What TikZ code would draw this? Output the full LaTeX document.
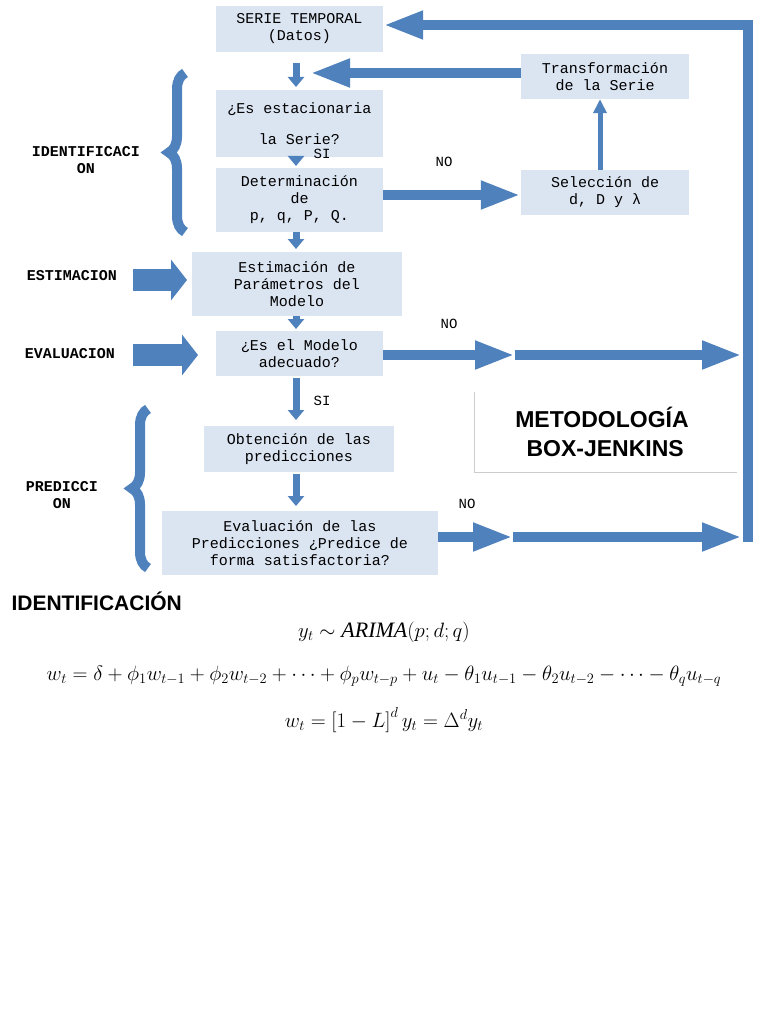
\documentclass[tikz,border=0pt]{standalone}
\usepackage{fontspec}
\setmainfont{Liberation Serif}
\newfontfamily\boxf{Liberation Mono}
\newfontfamily\sansb{Liberation Sans}
\usetikzlibrary{arrows.meta,decorations.pathreplacing}
\definecolor{bx}{HTML}{DBE4F1}
\definecolor{ab}{HTML}{4F81BD}
\begin{document}
\begin{tikzpicture}[x=1pt,y=-1pt,
  box/.style={fill=bx,draw=none,inner sep=0pt,align=center,font=\boxf\fontsize{15}{17}\selectfont},
  lab/.style={font=\boxf\bfseries\fontsize{15}{17}\selectfont,align=center},
  yn/.style={font=\boxf\fontsize{14}{16}\selectfont},
  sm/.style={ab,line width=7pt,-{Triangle[width=16pt,length=10pt]}},
  big/.style={ab,line width=10pt,-{Triangle[width=26pt,length=40pt]}},
  fat/.style={ab,line width=22pt,-{Triangle[width=40pt,length=16pt]}},
  br/.style={ab,line width=10pt,decorate,decoration={brace,amplitude=16pt,raise=0pt}}]
\useasboundingbox (0,0) rectangle (768,1024);
\fill[white] (0,0) rectangle (768,1024);
% boxes
\node[box,minimum width=167pt,minimum height=46pt] (serie) at (299.5,29) {SERIE TEMPORAL\\(Datos)};
\node[box,minimum width=168pt,minimum height=45pt] (trans) at (605,76.5) {Transformación\\de la Serie};
\node[box,minimum width=167pt,minimum height=67pt] (esta) at (299.5,123.5) {¿Es estacionaria\\[14pt]la Serie?};
\node[box,minimum width=167pt,minimum height=64pt] (det) at (299.5,200) {Determinación\\de\\p, q, P, Q.};
\node[box,minimum width=168pt,minimum height=45pt] (sel) at (605,192.5) {Selección de\\d, D y λ};
\node[box,minimum width=210pt,minimum height=64pt] (est) at (297,284) {Estimación de\\Parámetros del\\Modelo};
\node[box,minimum width=167pt,minimum height=45pt] (mod) at (299.5,353.5) {¿Es el Modelo\\adecuado?};
\node[box,minimum width=190pt,minimum height=46pt] (obt) at (299,449) {Obtención de las\\predicciones};
\node[box,minimum width=276pt,minimum height=64pt] (evp) at (300,543) {Evaluación de las\\Predicciones ¿Predice de\\forma satisfactoria?};
% title box
\draw[gray!40,line width=0.8pt] (474,392) -- (474,472) -- (737,472);
\node[font=\sansb\bfseries\fontsize{23}{29}\selectfont,align=center] (title) at (602,432) {METODOLOGÍA\\\ BOX-JENKINS};
% vertical small arrows
\draw[sm] (296,63) -- (296,87);
\draw[sm] (296,157) -- (296,166);
\draw[sm] (296,232) -- (296,249);
\draw[sm] (296,316) -- (296,329);
\draw[sm] (296,378) -- (296,420);
\draw[sm] (296,474) -- (296,506);
% horizontal arrows
\coordinate (tA) at (521,73); \coordinate (tB) at (310,73);
\draw[big] (tA) -- (tB);
\draw[big] (det.east|-0,195) -- (sel.west|-0,195);
\draw[ab,line width=5pt,-{Triangle[width=13pt,length=14pt]}] (sel.north-|600,0) -- (trans.south-|600,0);
\coordinate (m1) at (515,355); \coordinate (m2) at (742,355);
\draw[big] (mod.east|-0,355) -- (m1);
\draw[big] (m1) -- (m2);
\coordinate (e1) at (513,537); \coordinate (e2) at (742,537);
\draw[big] (evp.east|-0,537) -- (e1);
\draw[big] (e1) -- (e2);
% feedback
\coordinate (f1) at (748,542); \coordinate (f2) at (748,25);
\draw[ab,line width=10pt] (f1) -- (f2) -- (470,25);
\draw[big] (480,25) -- (serie.east|-0,25);
% labels
\node[yn] at (444,162) {NO};
\node[yn] at (322,154) {SI};
\node[yn] at (449,324) {NO};
\node[yn] at (322,401) {SI};
\node[yn] at (467,504) {NO};
% side labels
\node[lab] (idl) at (86,160) {IDENTIFICACI\\ON};
\node[lab] (esl) at (72,276) {ESTIMACION};
\node[lab] (evl) at (70,354) {EVALUACION};
\node[lab] (prl) at (62,495) {PREDICCI\\ON};
\draw[fat] (133,280) -- (187,280);
\draw[fat] (133,355) -- (198,355);
\draw[br] (185,232) -- (185,73);
\draw[br] (148,568) -- (148,409);
% formulas
\node[anchor=west,font=\sansb\bfseries\fontsize{21}{24}\selectfont] (idh) at (8,601) {IDENTIFICACIÓN};
\node[font=\fontsize{22}{26}\selectfont] (f1n) at (384,632) {$y_t \sim \mathit{ARIMA}(p;d;q)$};
\node[font=\fontsize{21.5}{24}\selectfont] (f2n) at (384,676) {$w_t=\delta+\phi_1w_{t-1}+\phi_2w_{t-2}+\cdots+\phi_pw_{t-p}+u_t-\theta_1u_{t-1}-\theta_2u_{t-2}-\cdots-\theta_qu_{t-q}$};
\node[font=\fontsize{22}{26}\selectfont] (f3n) at (384,720) {$w_t=\left[1-L\right]^d y_t=\Delta^d y_t$};
\end{tikzpicture}
\end{document}
